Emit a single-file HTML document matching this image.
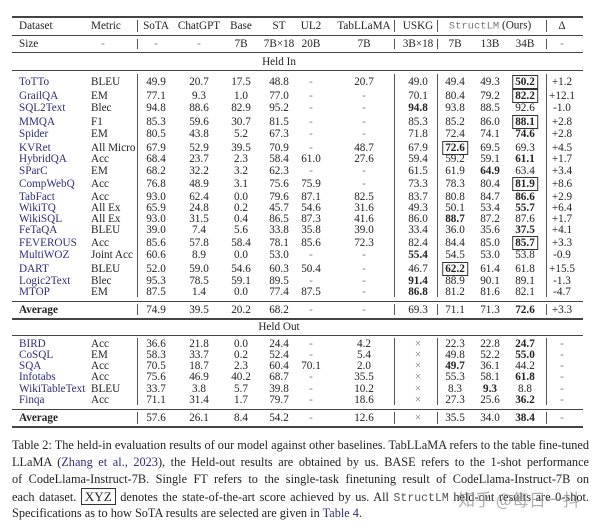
<!DOCTYPE html>
<html><head><meta charset="utf-8">
<style>
html,body{margin:0;padding:0;background:#fff;}
#page{position:relative;width:600px;height:530px;overflow:hidden;font-family:"Liberation Serif",serif;color:#222;}
.c{position:absolute;font-size:11.2px;line-height:12px;white-space:nowrap;transform:translate(-50%,-50%);}
.l{position:absolute;font-size:11.2px;line-height:12px;white-space:nowrap;transform:translateY(-50%);}
.ds{color:#2b2b86;}
.b{font-weight:bold;}
.box{border:1px solid #333;padding:0 2px;}
.hr{position:absolute;left:12px;width:571px;background:#444;}
.vr{position:absolute;width:1px;background:#555;}
.mono{font-family:"Liberation Mono",monospace;color:#777;font-size:10.5px;}
#cap{position:absolute;left:12px;top:437px;width:577px;font-size:12.3px;line-height:17px;color:#222;}
#cap .ln{text-align:justify;text-align-last:justify;white-space:nowrap;height:17px;}
#cap .ln.last{text-align-last:left;}
#cap a{color:#2b2b86;text-decoration:none;}
</style></head>
<body>
<div id="page">
<div id="cap">
<div class="ln">Table 2: The held-in evaluation results of our model against other baselines. TabLLaMA refers to the table fine-tuned</div>
<div class="ln">LLaMA (<a>Zhang et al., 2023</a>), the Held-out results are obtained by us. BASE refers to the 1-shot performance</div>
<div class="ln">of CodeLlama-Instruct-7B. Single FT refers to the single-task finetuning result of CodeLlama-Instruct-7B on</div>
<div class="ln">each dataset. <span style="border:1px solid #333;padding:0 3px;font-size:13px">XYZ</span> denotes the state-of-the-art score achieved by us. All <span style="font-family:'Liberation Mono',monospace;color:#555;font-size:11.5px">StructLM</span> held-out results are 0-shot.</div>
<div class="ln last">Specifications as to how SoTA results are selected are given in <a>Table 4</a>.</div>
</div>
<div style="position:absolute;left:458px;top:486px;font-family:'Noto Sans CJK SC',sans-serif;font-size:17px;color:rgba(150,150,150,0.75)">知乎 @每日一抖</div>
</div>
<script>
const colX=[156,199,241,279,311,364,418,455,490,525,562];
const headers=["SoTA","ChatGPT","Base","ST","UL2","TabLLaMA","USKG","","","","Δ"];
const sizes=["-","-","7B","7B×18","20B","7B","3B×18","7B","13B","34B","-"];
const heldInNames=["ToTTo","GrailQA","SQL2Text","MMQA","Spider","KVRet","HybridQA","SParC","CompWebQ","TabFact","WikiTQ","WikiSQL","FeTaQA","FEVEROUS","MultiWOZ","DART","Logic2Text","MTOP"];
const heldInMetrics=["BLEU","EM","Blec","F1","EM","All Micro","Acc","EM","Acc","Acc","All Ex","All Ex","BLEU","Acc","Joint Acc","BLEU","Blec","EM"];
const heldInY=[82,96,108,122,134,148,159,171,184,197,208,219,230,243,255,269,281,292];
const heldInVals=[
["49.9","20.7","17.5","48.8","-","20.7","49.0","49.4","49.3","*50.2","+1.2"],
["77.1","9.3","1.0","77.0","-","-","70.1","80.4","79.2","*82.2","+12.1"],
["94.8","88.6","82.9","95.2","-","-","!94.8","93.8","88.5","92.6","-1.0"],
["85.3","59.6","30.7","81.5","-","-","85.3","85.2","86.0","*88.1","+2.8"],
["80.5","43.8","5.2","67.3","-","-","71.8","72.4","74.1","!74.6","+2.8"],
["67.9","52.9","39.5","70.9","-","48.7","67.9","*72.6","69.5","69.3","+4.5"],
["68.4","23.7","2.3","58.4","61.0","27.6","59.4","59.2","59.1","!61.1","+1.7"],
["68.2","32.2","3.2","62.3","-","-","61.5","61.9","!64.9","63.4","+3.4"],
["76.8","48.9","3.1","75.6","75.9","-","73.3","78.3","80.4","*81.9","+8.6"],
["93.0","62.4","0.0","79.6","87.1","82.5","83.7","80.8","84.7","!86.6","+2.9"],
["65.9","24.8","0.2","45.7","54.6","31.6","49.3","50.1","53.4","!55.7","+6.4"],
["93.0","31.5","0.4","86.5","87.3","41.6","86.0","!88.7","87.2","87.6","+1.7"],
["39.0","7.4","5.6","33.8","35.8","39.0","33.4","36.0","35.6","!37.5","+4.1"],
["85.6","57.8","58.4","78.1","85.6","72.3","82.4","84.4","85.0","*85.7","+3.3"],
["60.6","8.9","0.0","53.0","-","-","!55.4","54.5","53.0","53.8","-0.9"],
["52.0","59.0","54.6","60.3","50.4","-","46.7","*62.2","61.4","61.8","+15.5"],
["95.3","78.5","59.1","89.5","-","-","!91.4","88.9","90.1","89.1","-1.3"],
["87.5","1.4","0.0","77.4","87.5","-","!86.8","81.2","81.6","82.1","-4.7"]];
const avgIn=["74.9","39.5","20.2","68.2","-","-","69.3","71.1","71.3","!72.6","+3.3"];
const heldOutNames=["BIRD","CoSQL","SQA","Infotabs","WikiTableText","Finqa"];
const heldOutMetrics=["Acc","EM","Acc","Acc","BLEU","Acc"];
const heldOutY=[344,355,366,377,389,400];
const heldOutVals=[
["36.6","21.8","0.0","24.4","-","4.2","×","22.3","22.8","!24.7","-"],
["58.3","33.7","0.2","52.4","-","5.4","×","49.8","52.2","!55.0","-"],
["70.5","18.7","2.3","60.4","70.1","2.0","×","!49.7","36.1","44.2","-"],
["75.6","46.9","40.2","68.7","-","35.5","×","55.3","58.1","!61.8","-"],
["33.7","3.8","5.7","39.8","-","10.2","×","8.3","!9.3","8.8","-"],
["71.1","31.4","1.7","79.7","-","18.6","×","27.3","25.6","!36.2","-"]];
const avgOut=["57.6","26.1","8.4","54.2","-","12.6","×","35.5","34.0","!38.4","-"];

const page=document.getElementById('page');
function add(cls,x,y,txt,name){
  const d=document.createElement('div');
  d.className=cls;d.style.left=x+'px';d.style.top=y+'px';
  let t=txt,extra='';
  if(t.startsWith('*')){t=t.slice(1);extra='<span class="b box">'+t+'</span>';}
  else if(t.startsWith('!')){t=t.slice(1);extra='<span class="b">'+t+'</span>';}
  d.innerHTML=extra||t;
  if(t==='-'||t==='×')d.style.color='#777';
  
  
  page.appendChild(d);return d;
}
function hr(y,h,name){const d=document.createElement('div');d.className='hr';d.style.top=y+'px';d.style.height=h+'px';
  
  
  page.appendChild(d);}
function vr(x,y1,y2){const d=document.createElement('div');d.className='vr';d.style.left=x+'px';d.style.top=y1+'px';d.style.height=(y2-y1)+'px';
  
  
  page.appendChild(d);}
hr(16,1.5,'top-rule');hr(35,1,'header-rule');hr(52,1,'size-rule');hr(70,1,'held-in-rule');
hr(301,1,'average-rule');hr(318,1.5,'average-bottom-rule');hr(335,1,'held-out-rule');hr(409,1,'held-out-avg-rule');hr(426,1.5,'bottom-rule');
add('l',19,26,'Dataset','header-dataset');add('l',91,26,'Metric','header-metric');
headers.forEach((h,i)=>{if(h)add('c',colX[i],26,h,'header-'+i);});
const s=add('c',490,26,'','header-structlm');s.innerHTML='<span class="mono">StructLM</span> (Ours)';
add('l',19,44,'Size','size-label');add('c',103,44,'-','size-metric');
sizes.forEach((v,i)=>add('c',colX[i],44,v,'size-'+i));
add('c',279,62,'Held In','held-in-label');
function rows(names,metrics,ys,vals,prefix){
  names.forEach((n,r)=>{
    const y=ys[r];
    add('l ds',19,y,n,prefix+'-dataset-'+n.toLowerCase());
    add('l',91,y,metrics[r],prefix+'-metric');
    vals[r].forEach((v,i)=>add('c',colX[i],y,v,prefix+'-cell'));
  });
}
rows(heldInNames,heldInMetrics,heldInY,heldInVals,'held-in');
add('l b',19,310,'Average','held-in-average-label');
avgIn.forEach((v,i)=>add('c',colX[i],310,v,'held-in-average-cell'));
add('c',279,327,'Held Out','held-out-label');
rows(heldOutNames,heldOutMetrics,heldOutY,heldOutVals,'held-out');
add('l b',19,418,'Average','held-out-average-label');
avgOut.forEach((v,i)=>add('c',colX[i],418,v,'held-out-average-cell'));
[137,394,437,546].forEach(x=>{vr(x,20,32);vr(x,39,49);vr(x,74,297);vr(x,338,405);vr(x,304,315);vr(x,412,424);});
</script>
</body></html>
